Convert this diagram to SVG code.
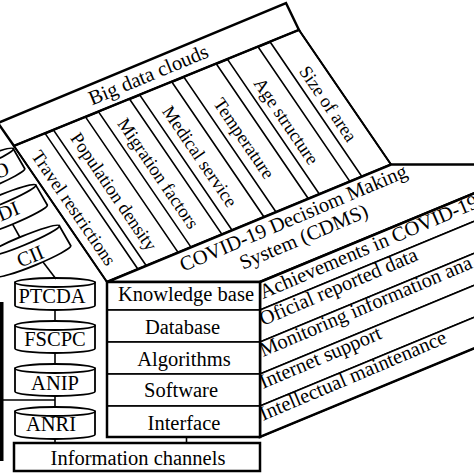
<svg xmlns="http://www.w3.org/2000/svg" width="474" height="474" viewBox="0 0 474 474">
<style>
 .o{fill:none;stroke:#000;stroke-width:2.5;stroke-linejoin:miter}
 .f{fill:#fff;stroke:#000;stroke-width:2.5;stroke-linejoin:miter}
 .t{fill:#fff;stroke:#000;stroke-width:1.6}
 .c{fill:#fff;stroke:#000;stroke-width:1.8}
 .k{fill:none;stroke:#000;stroke-width:1.6}
 text{font-family:"Liberation Serif","Times New Roman",serif;font-size:20.5px;fill:#000}
 .s{font-size:18.5px}
 .m{text-anchor:middle}
</style>
<defs>
 <g id="cyl">
  <path class="c" d="M-40,-11.5 V11.5 A40,4.5 0 0 0 40,11.5 V-11.5 Z"/>
  <ellipse class="c" cx="0" cy="-11.5" rx="40" ry="4.5"/>
 </g>
</defs>
<rect width="474" height="474" fill="#fff"/>

<!-- tilted stack -->
<g id="node-o">
 <use href="#cyl" transform="matrix(0.924,-0.383,0.5,0.866,-18,174)"/>
 <text class="m" transform="translate(1,170) rotate(-22.5)" dy=".35em">O</text>
</g>
<g id="node-di">
 <use href="#cyl" transform="matrix(0.924,-0.383,0.5,0.866,4.5,210.3)"/>
 <text class="m" transform="translate(8,211) rotate(-22.5)" dy=".35em">DI</text>
</g>
<g id="node-cii">
 <use href="#cyl" transform="matrix(0.924,-0.383,0.5,0.866,28,251)"/>
 <text class="m" transform="translate(30,256) rotate(-22.5)" dy=".35em">CII</text>
</g>

<!-- big data clouds strip -->
<g id="big-data-clouds">
 <polygon class="f" points="-2,123 286,3 299,30 14,146"/>
 <text class="m" transform="translate(151,81) rotate(-22.5)">Big data clouds</text>
</g>

<g id="factor-travel">
 <polygon class="t" points="14,146 45.07,133.36 137.96,269.25 107,282"/>
 <text class="m s" transform="translate(74,207.7) rotate(55.7)" dy=".35em">Travel restrictions</text>
</g>
<g id="factor-population">
 <polygon class="t" points="53.42,129.96 85.45,116.92 178.2,252.67 146.28,265.82"/>
 <text class="m s" transform="translate(114,191.5) rotate(55.7)" dy=".35em">Population density</text>
</g>
<g id="factor-migration">
 <polygon class="t" points="98.42,111.64 129.51,98.99 222.11,234.58 191.12,247.34"/>
 <text class="m s" transform="translate(158.5,173.2) rotate(55.7)" dy=".35em">Migration factors</text>
</g>
<g id="factor-medical">
 <polygon class="t" points="139.71,94.83 171.72,81.81 264.17,217.25 232.27,230.39"/>
 <text class="m s" transform="translate(200,156.2) rotate(55.7)" dy=".35em">Medical service</text>
</g>
<g id="factor-temperature">
 <polygon class="t" points="183.77,76.9 216.24,63.69 308.53,198.98 276.18,212.3"/>
 <text class="m s" transform="translate(244.3,138.2) rotate(55.7)" dy=".35em">Temperature</text>
</g>
<g id="factor-age">
 <polygon class="t" points="227.38,59.15 257.99,46.69 350.13,181.84 319.63,194.4"/>
 <text class="m s" transform="translate(286.5,121) rotate(55.7)" dy=".35em">Age structure</text>
</g>
<g id="factor-size">
 <polygon class="t" points="270.04,41.79 299,30 391,164.5 362.15,176.89"/>
 <text class="m s" transform="translate(328.5,103.6) rotate(55.7)" dy=".35em">Size of area</text>
</g>
<polygon class="o" points="14,146 299,30 391,164.5 107,282" style="stroke-width:2"/>

<!-- CDMS top face -->
<g id="cdms">
 <polygon class="f" points="107,282 260,282 480,190.9 480,164.5 391,164.5"/>
 <g transform="translate(296,224) rotate(-23)">
  <text class="m" x="0" y="0">COVID-19 Decisiom Making</text>
  <text class="m" x="2" y="21.5">System (CDMS)</text>
 </g>
</g>

<!-- right face -->
<g id="outcomes">
 <g id="out-achievements">
  <polygon class="t" points="260,282 480,190.9 480,218.9 260,310"/>
  <text transform="translate(263,299) rotate(-23)">Achievements in COVID-19</text>
 </g>
 <g id="out-official">
  <polygon class="t" points="260,310 480,218.9 480,250.9 260,342"/>
  <text transform="translate(263,326) rotate(-23)">Oficial reported data</text>
 </g>
 <g id="out-monitoring">
  <polygon class="t" points="260,342 480,250.9 480,282.9 260,374"/>
  <text transform="translate(263,357) rotate(-23)">Monitoring information ana</text>
 </g>
 <g id="out-internet">
  <polygon class="t" points="260,374 480,282.9 480,314.9 260,406"/>
  <text transform="translate(263,389) rotate(-23)">Internet support</text>
 </g>
 <g id="out-intellectual">
  <polygon class="t" points="260,406 480,314.9 480,345.9 260,437"/>
  <text transform="translate(263,421) rotate(-23)">Intellectual maintenance</text>
 </g>
 <polygon class="o" points="260,282 480,190.9 480,345.9 260,437"/>
</g>

<!-- front table -->
<g id="cdms-table">
 <g id="row-knowledge"><rect class="t" x="107" y="282" width="153" height="28"/><text class="m" x="186" y="300.5">Knowledge base</text></g>
 <g id="row-database"><rect class="t" x="107" y="310" width="153" height="32"/><text class="m" x="182.5" y="334">Database</text></g>
 <g id="row-algorithms"><rect class="t" x="107" y="342" width="153" height="32"/><text class="m" x="184" y="365.7">Algorithms</text></g>
 <g id="row-software"><rect class="t" x="107" y="374" width="153" height="32"/><text class="m" x="181" y="397">Software</text></g>
 <g id="row-interface"><rect class="t" x="107" y="406" width="153" height="31"/><text class="m" x="184" y="430">Interface</text></g>
 <rect class="o" x="107" y="282" width="153" height="155"/>
</g>

<!-- vertical stack -->
<g id="node-ptcda"><use href="#cyl" transform="translate(55,294)"/><text class="m" x="52" y="303">PTCDA</text></g>
<g id="node-fscpc"><use href="#cyl" transform="translate(55,337)"/><text class="m" x="55" y="346">FSCPC</text></g>
<g id="node-anip"><use href="#cyl" transform="translate(55,380)"/><text class="m" x="55" y="389.5">ANIP</text></g>
<g id="node-anri"><use href="#cyl" transform="translate(55,423)"/><text class="m" x="51" y="431">ANRI</text></g>

<g id="info-channels">
 <rect class="f" x="14" y="443" width="246" height="28"/>
 <text class="m" x="138" y="464.5">Information channels</text>
</g>

<g id="left-bar"><rect x="0" y="302" width="3.5" height="159" fill="#000"/></g>

<g id="connectors" class="k">
 <line x1="12.5" y1="224.2" x2="20" y2="237.5"/>
 <line x1="43" y1="262" x2="56" y2="279"/>
 <line x1="55" y1="310" x2="55" y2="321"/>
 <line x1="55" y1="353" x2="55" y2="364"/>
 <line x1="55" y1="396" x2="55" y2="407"/>
 <line x1="55" y1="439" x2="55" y2="443"/>
 <line x1="186.5" y1="437" x2="186.5" y2="443"/>
 <line x1="3" y1="400" x2="55" y2="400"/>
</g>
</svg>
